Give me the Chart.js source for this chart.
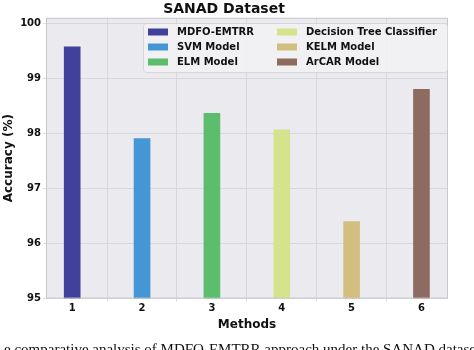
<!DOCTYPE html>
<html>
<head>
<meta charset="utf-8">
<script src="https://cdn.jsdelivr.net/npm/chart.js@4/dist/chart.umd.min.js"></script>
<style>
  html, body { margin: 0; padding: 0; background: #fff; }
  #wrap { position: relative; width: 474px; height: 350px; overflow: hidden; }
  #caption {
    position: absolute; left: 4px; top: 341px; white-space: nowrap;
    font-family: "Liberation Serif", serif; font-size: 15px; color: #111;
  }
</style>
</head>
<body>
<div id="wrap">
  <canvas id="sanad" width="474" height="350"></canvas>
  <div id="caption">e comparative analysis of MDFO-EMTRR approach under the SANAD dataset</div>
</div>
<script>
const methods = ['MDFO-EMTRR', 'SVM Model', 'ELM Model', 'Decision Tree Classifier', 'KELM Model', 'ArCAR Model'];
const positions = [1, 2, 3, 4, 5, 6];
const accuracy = [99.58, 97.91, 98.37, 98.07, 96.40, 98.81];
const yTicks = [95, 96, 97, 98, 99, 100];
const colors = ['#41409a', '#4596d4', '#5cbd6d', '#d5e48c', '#d2bf80', '#8e6b60'];

const font = 'DejaVu Sans';

// plot background + full frame around the axes
const plotFrame = {
  id: 'plotFrame',
  beforeDraw(chart) {
    const a = chart.chartArea, ctx = chart.ctx;
    ctx.save();
    ctx.fillStyle = '#ebebef';
    ctx.fillRect(a.left, a.top, a.right - a.left, a.bottom - a.top);
    ctx.restore();
  },
  afterDatasetsDraw(chart) {
    const a = chart.chartArea, ctx = chart.ctx;
    ctx.save();
    ctx.strokeStyle = '#c9c9cc';
    ctx.lineWidth = 1;
    ctx.strokeRect(a.left + 0.5, a.top + 0.5, a.right - a.left - 1, a.bottom - a.top - 1);
    ctx.restore();
  }
};

// two-column legend in the upper right of the plot
const boxLegend = {
  id: 'boxLegend',
  afterDraw(chart) {
    const ctx = chart.ctx;
    const x0 = 143, y0 = 23, w = 304, h = 49;
    ctx.save();
    ctx.fillStyle = 'rgba(242,242,245,0.85)';
    ctx.strokeStyle = '#d6d6d9';
    ctx.lineWidth = 1;
    ctx.beginPath();
    ctx.roundRect(x0 + 0.5, y0 + 0.5, w, h, 3);
    ctx.fill();
    ctx.stroke();
    ctx.font = 'bold 10px "' + font + '"';
    ctx.textBaseline = 'middle';
    methods.forEach((m, i) => {
      const col = Math.floor(i / 3), row = i % 3;
      const sx = col ? 277 : 148;
      const y = 32 + row * 15;
      ctx.fillStyle = colors[i];
      ctx.fillRect(sx, y - 3.5, 20, 7);
      ctx.fillStyle = '#111';
      ctx.fillText(m, sx + 29, y);
    });
    ctx.restore();
  }
};

new Chart(document.getElementById('sanad'), {
  type: 'bar',
  data: {
    datasets: [{
      data: positions.map((p, i) => ({ x: p, y: accuracy[i] })),
      backgroundColor: colors,
      barThickness: 16
    }]
  },
  options: {
    responsive: false,
    animation: false,
    layout: { padding: { left: 0, right: 26, top: 0, bottom: 18 } },
    plugins: {
      legend: { display: false },
      tooltip: { enabled: false },
      title: {
        display: true,
        text: 'SANAD Dataset',
        color: '#111',
        font: { family: font, size: 14, weight: 'bold' },
        padding: { top: 1, bottom: 0 }
      }
    },
    scales: {
      x: {
        type: 'linear',
        min: 0.625,
        max: 6.38,
        offset: false,
        afterBuildTicks: s => { s.ticks = positions.map(v => ({ value: v })); },
        ticks: { color: '#111', padding: 1, font: { family: font, size: 10, weight: 'bold' } },
        grid: { color: '#d3d3d7', lineWidth: 0.8, tickLength: 3 },
        border: { display: false },
        title: {
          display: true, text: 'Methods', color: '#111',
          font: { family: font, size: 12, weight: 'bold' },
          padding: { top: 2, bottom: 0 }
        }
      },
      y: {
        min: 95,
        max: 100.11,
        afterBuildTicks: s => { s.ticks = yTicks.map(v => ({ value: v })); },
        afterFit: s => { s.width = 46; },
        ticks: { color: '#111', padding: 2, font: { family: font, size: 10, weight: 'bold' } },
        grid: { color: '#d3d3d7', lineWidth: 0.8, tickLength: 3 },
        border: { display: false },
        title: {
          display: true, text: 'Accuracy (%)', color: '#111',
          font: { family: font, size: 12, weight: 'bold' },
          padding: { top: 2, bottom: 0 }
        }
      }
    }
  },
  plugins: [plotFrame, boxLegend]
});
</script>
</body>
</html>
